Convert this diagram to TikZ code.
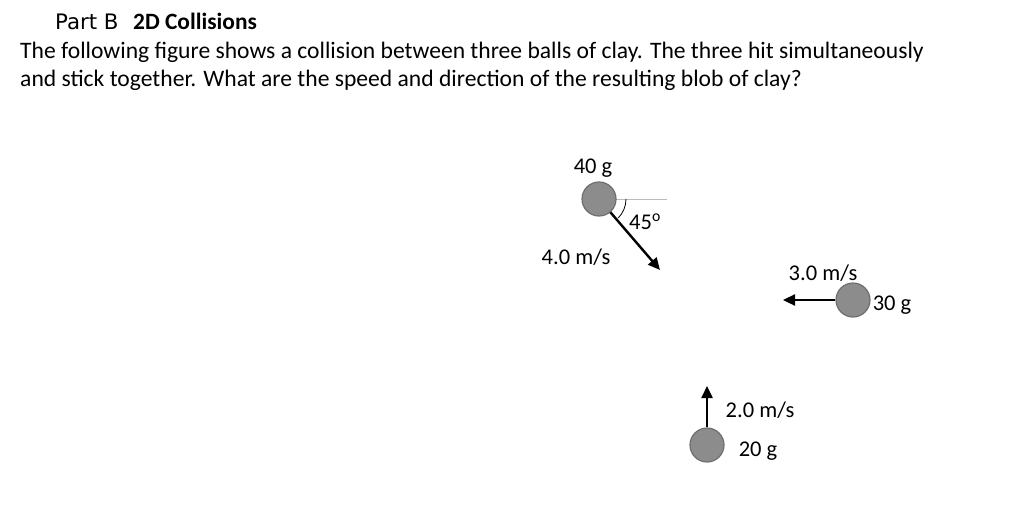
\documentclass[tikz,border=0pt]{standalone}
\usepackage{fontspec}
\setmainfont{Carlito}
\newfontfamily\partfont{DejaVu Sans}
\usetikzlibrary{arrows.meta,calc}
\tikzset{
  ball/.style={circle, fill=ballgray, draw=balledge, line width=1.2pt, minimum size=34pt, inner sep=0pt},
  vel/.style={line width=2.4pt, -{Triangle[length=12pt,width=11pt]}},
  lbl/.style={font=\fontsize{22.5}{26}\selectfont, inner sep=0pt},
  body/.style={font=\fontsize{23.6}{28}\selectfont, inner sep=0pt, anchor=base west},
}
\definecolor{ballgray}{HTML}{8C8C8C}
\definecolor{balledge}{HTML}{6E6E6E}
\definecolor{refgray}{HTML}{BBBBBB}
\begin{document}
\begin{tikzpicture}[x=1pt,y=-1pt]
\useasboundingbox (0,0) rectangle (1024,508);
% header
\node[body, font=\partfont\fontsize{21.3}{24}\selectfont] (part) at (55,30) {Part B};
\node[body, font=\bfseries\fontsize{23.4}{28}\selectfont] (title) at (133,30) {2D Collisions};
\node[body] (l1) at (20,59) {The following figure shows a collision between three balls of clay. The three hit simultaneously};
\node[body] (l2) at (20,87) {and stick together. What are the speed and direction of the resulting blob of clay?};
% ball 1
\coordinate (c1) at (599,199);
\coordinate (t1) at (660,270);
\coordinate (h1) at (667,199);
\draw[refgray, line width=1pt] (c1) -- (h1);
\draw[vel] (c1) -- (t1);
\node[ball] (b1) at (c1) {};
\draw[line width=0.8pt] ($(c1)+(27,0)$) arc[start angle=0, end angle=45, radius=27];
\node[lbl] (m1) at (593,168) {40 g};
\node[lbl] (a1) at (645,222) {45\textsuperscript{o}};
\node[lbl] (v1) at (576,257) {4.0 m/s};
% ball 2
\coordinate (t2) at (783,300);
\node[ball] (b2) at (853,300) {};
\draw[vel] (b2.west) -- (t2);
\node[lbl] (v2) at (823,273) {3.0 m/s};
\node[lbl] (m2) at (892,305) {30 g};
% ball 3
\coordinate (t3) at (707,386);
\node[ball] (b3) at (707,445) {};
\draw[vel] (b3.north) -- (t3);
\node[lbl] (v3) at (760,410) {2.0 m/s};
\node[lbl] (m3) at (758,451) {20 g};
\end{tikzpicture}
\end{document}
